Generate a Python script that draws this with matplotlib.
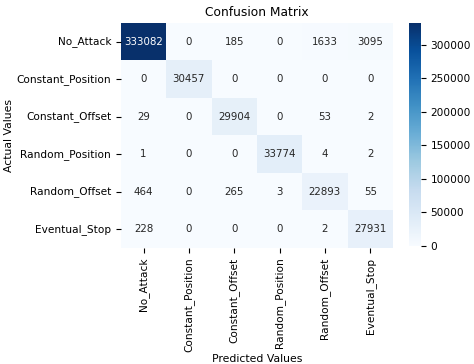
import numpy as np
import matplotlib
matplotlib.use("Agg")
import matplotlib.pyplot as plt
import seaborn as sns

labels = ["No_Attack", "Constant_Position", "Constant_Offset",
          "Random_Position", "Random_Offset", "Eventual_Stop"]
row_no_attack = [333082, 0, 185, 0, 1633, 3095]
row_const_pos = [0, 30457, 0, 0, 0, 0]
row_const_off = [29, 0, 29904, 0, 53, 2]
row_rand_pos = [1, 0, 0, 33774, 4, 2]
row_rand_off = [464, 0, 265, 3, 22893, 55]
row_event_stop = [228, 0, 0, 0, 2, 27931]

cm = np.array([row_no_attack, row_const_pos, row_const_off,
               row_rand_pos, row_rand_off, row_event_stop])

fig = plt.figure(figsize=(4.74, 3.64), dpi=100)
ax = fig.add_axes([0.255, 0.319, 0.574, 0.618])
cax = fig.add_axes([0.863, 0.325, 0.025, 0.612])
sns.heatmap(cm, annot=True, fmt="d", cmap="Blues", ax=ax, cbar_ax=cax,
            xticklabels=labels, yticklabels=labels,
            annot_kws={"fontsize": 7.4})
ax.set_title("Confusion Matrix", fontsize=8.8, pad=5)
ax.set_xlabel("Predicted Values", fontsize=7.8, labelpad=1)
ax.set_ylabel("Actual Values", fontsize=7.8, labelpad=2)
ax.tick_params(labelsize=7.6)
plt.setp(ax.get_xticklabels(), rotation=90)
plt.setp(ax.get_yticklabels(), rotation=0)
cax.tick_params(labelsize=7.6)
fig.savefig("out.png", dpi=100)
